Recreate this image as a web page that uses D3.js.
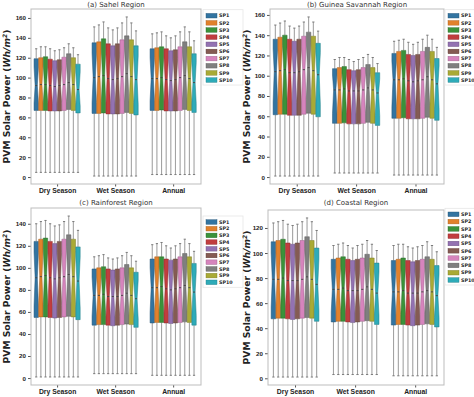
<!DOCTYPE html>
<html>
<head>
<meta charset="utf-8">
<script src="https://cdn.jsdelivr.net/npm/d3@7"></script>
<style>
  body { margin: 0; background: #fff; }
  svg { display: block; font-family: "DejaVu Sans", sans-serif; }
  .tick text { font-weight: bold; fill: #222; }
</style>
</head>
<body>
<svg id="chart" width="474" height="397"></svg>
<script>
const seasons = ["Dry Season", "Wet Season", "Annual"];
const schemes = ["SP1", "SP2", "SP3", "SP4", "SP5", "SP6", "SP7", "SP8", "SP9", "SP10"];
const colours = ["#3274a1", "#e1812c", "#3a923a", "#c03d3e", "#9372b2",
                 "#845b53", "#d684bd", "#7f7f7f", "#a9aa35", "#2eabb8"];

// values per season (dry, wet, annual), one entry per scheme SP1..SP10
// (a) Sahel
const sahelMax = [[129,131,131,129,127,128,130,134,130,123],[151,153,156,150,148,150,155,161,155,147],[144,145,146,142,140,142,146,151,146,137]];
const sahelQ3  = [[119,120,121,118.5,117,118,120.5,124,120,113.5],[135,136,139,134,132,134,138,142,138,132],[129,130,131,129,127,128,131,136,131,124]];
const sahelMed = [[92,93,93,92,91,92,93,95,93,88],[100,101,102,99,98,99,101,104,101,98],[99,99,100,98,97,98,100,102,99,95]];
const sahelQ1  = [[67,67,67,66.5,66.5,66.5,67,68,67,64.5],[64,64,64.5,63.5,63.5,63.5,64,65,64,62.5],[67,67,67.5,66.5,66.5,66.5,67,68,67,65]];
const sahelMin = [[4.7,4.7,4.7,4.7,4.7,4.7,4.7,4.7,4.7,4.7],[1,1,1,1,1,1,1,1,1,1],[2.5,2.5,2.5,2.5,2.5,2.5,2.5,2.5,2.5,2.5]];

// (b) Guinea Savannah
const guineaMax = [[150,152,154,149,147,149,153,158,153,144],[116,118,118,116,114,116,118,121,118,112],[134,135,136,133,131,133,136,140,136,128]];
const guineaQ3  = [[136,138,140,136,134,136,139,143,139,132],[107,108,109,106,105,106,108,111,108,103],[122,124,125,121,120,121,124,128,124,117]];
const guineaMed = [[104,105,106,103,103,104,106,108,105,101],[86,86,87,85,85,85,86,88,86,83],[96,96,97,95,94,95,96,99,96,92]];
const guineaQ1  = [[61.5,62,62,61,61,61,62,63,62,59.5],[53,53,53.5,52.5,52.5,52.5,53,54,53,51],[58,58,58.5,57.5,57.5,57.5,58,59,58,56]];
const guineaMin = [[1,1,1,1,1,1,1,1,1,1],[4,4,4,4,4,4,4,4,4,4],[2,2,2,2,2,2,2,2,2,2]];

// (c) Rainforest
const rainMax = [[140,142,143,140,138,139,142,147,142,134],[110,111,112,109,108,109,111,114,111,106],[121,122,123,120,118,120,122,126,122,115]];
const rainQ3  = [[124,126,127,124,122,124,126,130,126,119],[99,100,101,99,98,99,100,103,100,96],[108,110,110,108,107,108,110,113,110,104]];
const rainMed = [[91,92,93,91,90,91,92,94,92,88],[75,75,76,74,74,74,75,77,75,72],[82,82,83,81,80,81,82,84,82,78]];
const rainQ1  = [[55,55.5,55.5,55,54.5,55,55.5,56,55.5,53],[48,48.5,48.5,48,47.5,48,48.5,49,48.5,46],[50,50.5,50.5,50,49.5,50,50.5,51,50.5,48]];
const rainMin = [[1,1,1,1,1,1,1,1,1,1],[4,4,4,4,4,4,4,4,4,4],[2.5,2.5,2.5,2.5,2.5,2.5,2.5,2.5,2.5,2.5]];

// (d) Coastal
const coastMax = [[124,125,126,123,122,123,125,128,125,118],[106,107,108,106,104,106,107,110,107,102],[106,107,107,105,104,105,106,109,106,101]];
const coastQ3  = [[109,110,111,108,107,108,110,113,110,104],[95,96,97,95,94,95,96,99,96,92],[94,95,96,94,93,94,95,97,95,90]];
const coastMed = [[79,79,80,78,78,78,79,81,79,75],[71,71,72,70,70,70,71,73,71,68],[69,69,70,68,68,68,69,70,69,66]];
const coastQ1  = [[47.5,48,48,47.5,47,47.5,48,48.5,48,45.5],[45,45.5,45.5,45,44.5,45,45.5,46,45.5,43],[42.5,43,43,42.5,42,42.5,43,43.5,43,41]];
const coastMin = [[1,1,1,1,1,1,1,1,1,1],[3,3,3,3,3,3,3,3,3,3],[2,2,2,2,2,2,2,2,2,2]];

const svg = d3.select("#chart");

const panels = [
  { title: "(a) Sahel Region", box: {x0: 31, x1: 201, y0: 9, y1: 184}, titleY: 7, labelX: 10,
    legend: {x: 206, y: 15.7, step: 7.15}, yMax: 160,
    max: sahelMax, q3: sahelQ3, med: sahelMed, q1: sahelQ1, min: sahelMin },
  { title: "(b) Guinea Savannah Region", box: {x0: 270, x1: 444, y0: 9, y1: 184}, titleY: 7, labelX: 250,
    legend: {x: 448, y: 15.7, step: 7.15}, yMax: 160,
    max: guineaMax, q3: guineaQ3, med: guineaMed, q1: guineaQ1, min: guineaMin },
  { title: "(c) Rainforest Region", box: {x0: 31, x1: 201, y0: 208, y1: 385}, titleY: 205, labelX: 10,
    legend: {x: 206, y: 222, step: 6.7}, yMax: 140,
    max: rainMax, q3: rainQ3, med: rainMed, q1: rainQ1, min: rainMin },
  { title: "(d) Coastal Region", box: {x0: 268, x1: 444, y0: 210, y1: 385}, titleY: 205, labelX: 250,
    legend: {x: 448, y: 214.3, step: 7.3}, yMax: 120,
    max: coastMax, q3: coastQ3, med: coastMed, q1: coastQ1, min: coastMin }
];

function drawPanel(p) {
  const g = svg.append("g");
  const b = p.box;

  // matplotlib style 5% margins around the data range
  const lo = d3.min(p.min.flat()), hi = d3.max(p.max.flat());
  const pad = (hi - lo) * 0.05;
  const y = d3.scaleLinear().domain([lo - pad, hi + pad]).range([b.y1, b.y0]);
  const x = d3.scaleLinear().domain([-0.45, 2.48]).range([b.x0, b.x1]);

  const step = (x(0.8) - x(0)) / schemes.length;
  const bw = step * 0.94;

  const yAxis = d3.axisLeft(y).tickValues(d3.range(0, p.yMax + 1, 20)).tickSize(3).tickPadding(2);
  g.append("g")
    .attr("transform", `translate(${b.x0},0)`)
    .call(yAxis)
    .call(a => a.select(".domain").remove())
    .call(a => a.selectAll(".tick line").attr("stroke", "#555"))
    .call(a => a.selectAll(".tick text").attr("font-size", 6.2));

  const xAxis = d3.axisBottom(x).tickValues([0, 1, 2]).tickFormat(i => seasons[i]).tickSize(2.5).tickPadding(2);
  g.append("g")
    .attr("transform", `translate(0,${b.y1})`)
    .call(xAxis)
    .call(a => a.select(".domain").remove())
    .call(a => a.selectAll(".tick line").attr("stroke", "#555"))
    .call(a => a.selectAll(".tick text").attr("font-size", 6.8));

  const rows = [];
  seasons.forEach((s, i) => {
    schemes.forEach((sp, j) => {
      rows.push({
        cx: x(i) + (j - 4.5) * step,
        colour: colours[j],
        max: p.max[i][j], q3: p.q3[i][j], med: p.med[i][j], q1: p.q1[i][j], min: p.min[i][j]
      });
    });
  });

  const boxes = g.append("g").selectAll("g.box").data(rows).enter().append("g").attr("class", "box");

  // whiskers and caps
  boxes.append("line")
    .attr("x1", d => d.cx).attr("x2", d => d.cx)
    .attr("y1", d => y(d.q3)).attr("y2", d => y(d.max))
    .attr("stroke", "#a3a3a3").attr("stroke-width", 1.1);
  boxes.append("line")
    .attr("x1", d => d.cx).attr("x2", d => d.cx)
    .attr("y1", d => y(d.q1)).attr("y2", d => y(d.min))
    .attr("stroke", "#a3a3a3").attr("stroke-width", 1.1);
  boxes.append("line")
    .attr("x1", d => d.cx - bw / 4).attr("x2", d => d.cx + bw / 4)
    .attr("y1", d => y(d.max)).attr("y2", d => y(d.max))
    .attr("stroke", "#7a7a7a").attr("stroke-width", 1);
  boxes.append("line")
    .attr("x1", d => d.cx - bw / 4).attr("x2", d => d.cx + bw / 4)
    .attr("y1", d => y(d.min)).attr("y2", d => y(d.min))
    .attr("stroke", "#7a7a7a").attr("stroke-width", 1);

  // notched box body
  boxes.append("polygon")
    .attr("points", d => {
      const l = d.cx - bw / 2, r = d.cx + bw / 2;
      const il = d.cx - bw / 4, ir = d.cx + bw / 4;
      const cLo = d.med - 0.7 * (d.med - d.q1), cHi = d.med + 0.7 * (d.q3 - d.med);
      return [[l, y(d.q1)], [l, y(cLo)], [il, y(d.med)], [l, y(cHi)], [l, y(d.q3)],
              [r, y(d.q3)], [r, y(cHi)], [ir, y(d.med)], [r, y(cLo)], [r, y(d.q1)]]
        .map(pt => pt.join(",")).join(" ");
    })
    .attr("fill", d => d.colour)
    .attr("stroke", d => d3.color(d.colour).darker(0.9))
    .attr("stroke-width", 0.5);

  boxes.append("line")
    .attr("x1", d => d.cx - bw / 4).attr("x2", d => d.cx + bw / 4)
    .attr("y1", d => y(d.med)).attr("y2", d => y(d.med))
    .attr("stroke", "#444").attr("stroke-width", 0.9);

  // frame
  g.append("rect")
    .attr("x", b.x0).attr("y", b.y0)
    .attr("width", b.x1 - b.x0).attr("height", b.y1 - b.y0)
    .attr("fill", "none").attr("stroke", "#bdbdbd").attr("stroke-width", 1);

  g.append("text")
    .attr("x", (b.x0 + b.x1) / 2).attr("y", p.titleY)
    .attr("text-anchor", "middle")
    .attr("font-size", 7).attr("fill", "#333")
    .text(p.title);

  const yl = g.append("text")
    .attr("transform", `translate(${p.labelX},${(b.y0 + b.y1) / 2}) rotate(-90)`)
    .attr("text-anchor", "middle")
    .attr("font-size", 9.2).attr("font-weight", "bold").attr("fill", "#222");
  yl.append("tspan").text("PVM Solar Power (");
  yl.append("tspan").attr("font-style", "italic").text("Wh/m");
  yl.append("tspan").attr("font-style", "italic").attr("font-size", 6).attr("dy", -3.5).text("2");
  yl.append("tspan").attr("dy", 3.5).text(")");

  // legend
  const L = p.legend;
  g.append("rect")
    .attr("x", L.x - 3).attr("y", L.y - 6)
    .attr("width", 40).attr("height", L.step * 9 + 11)
    .attr("fill", "none").attr("stroke", "#e6e6e6").attr("stroke-width", 0.8);
  const items = g.selectAll("g.leg").data(schemes).enter().append("g")
    .attr("transform", (d, i) => `translate(${L.x},${L.y + i * L.step})`);
  items.append("rect")
    .attr("x", 0).attr("y", -2.3).attr("width", 11).attr("height", 4.6)
    .attr("fill", (d, i) => colours[i])
    .attr("stroke", (d, i) => d3.color(colours[i]).darker(0.9)).attr("stroke-width", 0.4);
  items.append("text")
    .attr("x", 13).attr("y", 1.7)
    .attr("font-size", 4.8).attr("font-weight", "bold").attr("fill", "#222")
    .text(d => d);
}

panels.forEach(drawPanel);
</script>
</body>
</html>
